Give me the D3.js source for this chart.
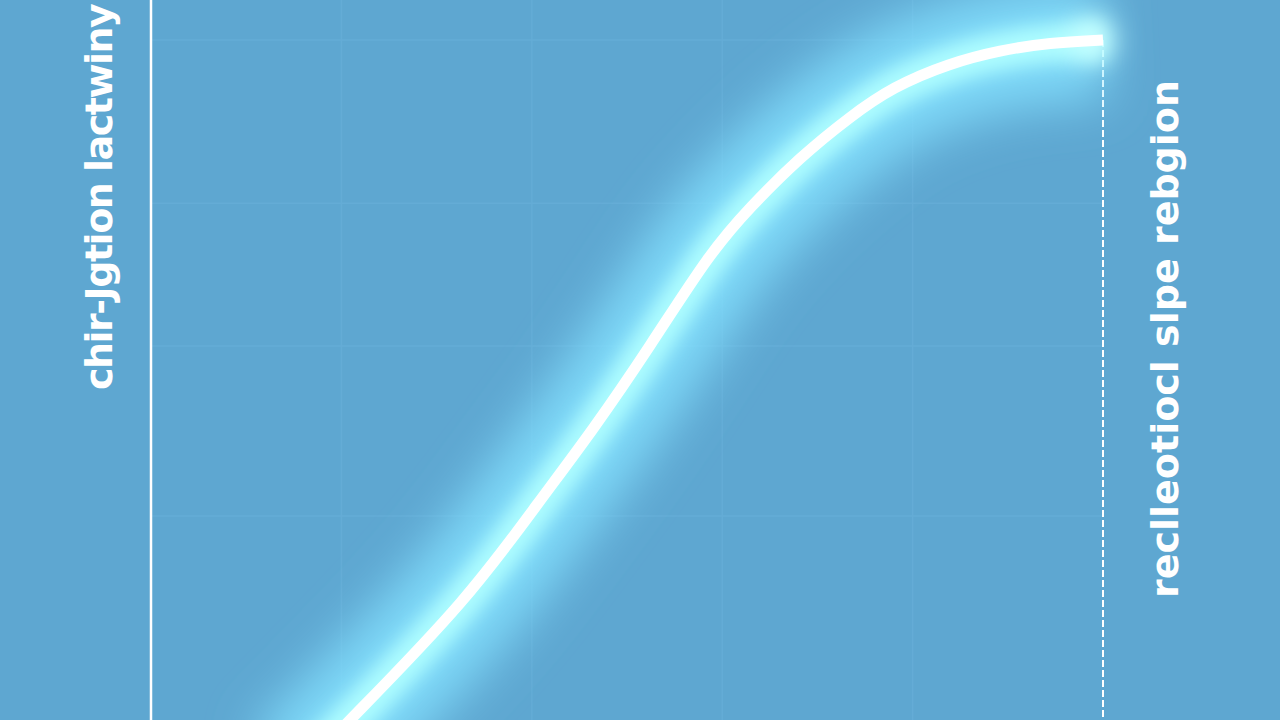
<!DOCTYPE html>
<html>
<head>
<meta charset="utf-8">
<script src="https://cdn.jsdelivr.net/npm/d3@7"></script>
<style>
  html, body { margin: 0; padding: 0; background: #5ea7d1; overflow: hidden; }
  .sideText { font-family: "DejaVu Sans", sans-serif; font-size: 38px; font-weight: bold; fill: #ffffff; }
</style>
</head>
<body>
<div id="chart"></div>
<script>
// curve values (x: 0..10, y: 0..10)
var curveX = [1.5, 2.09, 3.32, 4.09, 4.64, 5.24, 5.87, 6.29, 6.82, 7.34, 7.79, 8.39, 8.92, 9.44, 10];
var curveY = [-0.85, 0, 1.76, 3.24, 4.26, 5.49, 6.87, 7.54, 8.28, 8.87, 9.31, 9.66, 9.85, 9.96, 10];

// faint grid
var gridX = [2, 4, 6, 8];
var gridY = [3, 5.5, 7.6, 10];

var leftLabel = "chir-Jgtion lactwiny";
var rightLabel = "reclleotiocl slpe rebgion";

const width = 1280;
const height = 720;

var x = d3.scaleLinear().domain([0, 10]).range([151, 1103]);
var y = d3.scaleLinear().domain([0, 10]).range([720, 40]);

var svg = d3.select("#chart").append("svg")
	.attr("width", width)
	.attr("height", height);

var defs = svg.append("defs");
defs.append("filter").attr("id", "blurWide")
	.attr("x", "-50%").attr("y", "-50%").attr("width", "200%").attr("height", "200%")
	.append("feGaussianBlur").attr("stdDeviation", 24);
defs.append("filter").attr("id", "blurMid")
	.attr("x", "-50%").attr("y", "-50%").attr("width", "200%").attr("height", "200%")
	.append("feGaussianBlur").attr("stdDeviation", 9);
defs.append("filter").attr("id", "blurEnd")
	.attr("x", "-100%").attr("y", "-100%").attr("width", "300%").attr("height", "300%")
	.append("feGaussianBlur").attr("stdDeviation", 14);

svg.append("rect")
	.attr("width", width)
	.attr("height", height)
	.attr("fill", "#5ea7d1");

// grid
svg.append("g").selectAll("line.gx")
	.data(gridX).enter().append("line")
	.attr("x1", d => x(d)).attr("x2", d => x(d))
	.attr("y1", 0).attr("y2", height)
	.attr("stroke", "#64acd6").attr("stroke-width", 1.5);

svg.append("g").selectAll("line.gy")
	.data(gridY).enter().append("line")
	.attr("x1", x(0)).attr("x2", x(10))
	.attr("y1", d => y(d)).attr("y2", d => y(d))
	.attr("stroke", "#64acd6").attr("stroke-width", 1.5);

// left solid line and right dashed line
svg.append("line")
	.attr("x1", x(0)).attr("x2", x(0))
	.attr("y1", 0).attr("y2", height)
	.attr("stroke", "#ffffff").attr("stroke-width", 2.5);

svg.append("line")
	.attr("x1", x(10)).attr("x2", x(10))
	.attr("y1", y(10)).attr("y2", height)
	.attr("stroke", "#ffffff").attr("stroke-width", 2)
	.attr("stroke-dasharray", "7,3");

var points = curveX.map((d, i) => [d, curveY[i]]);
var line = d3.line()
	.x(d => x(d[0]))
	.y(d => y(d[1]))
	.curve(d3.curveBasis);

// wide glow
svg.append("path")
	.datum(points)
	.attr("d", line)
	.attr("fill", "none")
	.attr("stroke", "#84e2ff")
	.attr("stroke-width", 120)
	.attr("stroke-opacity", 0.85)
	.attr("filter", "url(#blurWide)");

// inner glow
svg.append("path")
	.datum(points)
	.attr("d", line)
	.attr("fill", "none")
	.attr("stroke", "#adfdff")
	.attr("stroke-width", 38)
	.attr("filter", "url(#blurMid)");

// glow at end point
svg.append("circle")
	.attr("cx", x(10) - 10).attr("cy", y(10))
	.attr("r", 22)
	.attr("fill", "#c8ffff")
	.attr("filter", "url(#blurEnd)");

// core line
svg.append("path")
	.datum(points)
	.attr("d", line)
	.attr("fill", "none")
	.attr("stroke", "#ffffff")
	.attr("stroke-width", 11);

// side labels
svg.append("text")
	.attr("class", "sideText")
	.attr("letter-spacing", -1.5)
	.attr("transform", "translate(112,390) rotate(-90)")
	.text(leftLabel);

svg.append("text")
	.attr("class", "sideText")
	.attr("transform", "translate(1178,598) rotate(-90)")
	.text(rightLabel);
</script>
</body>
</html>
